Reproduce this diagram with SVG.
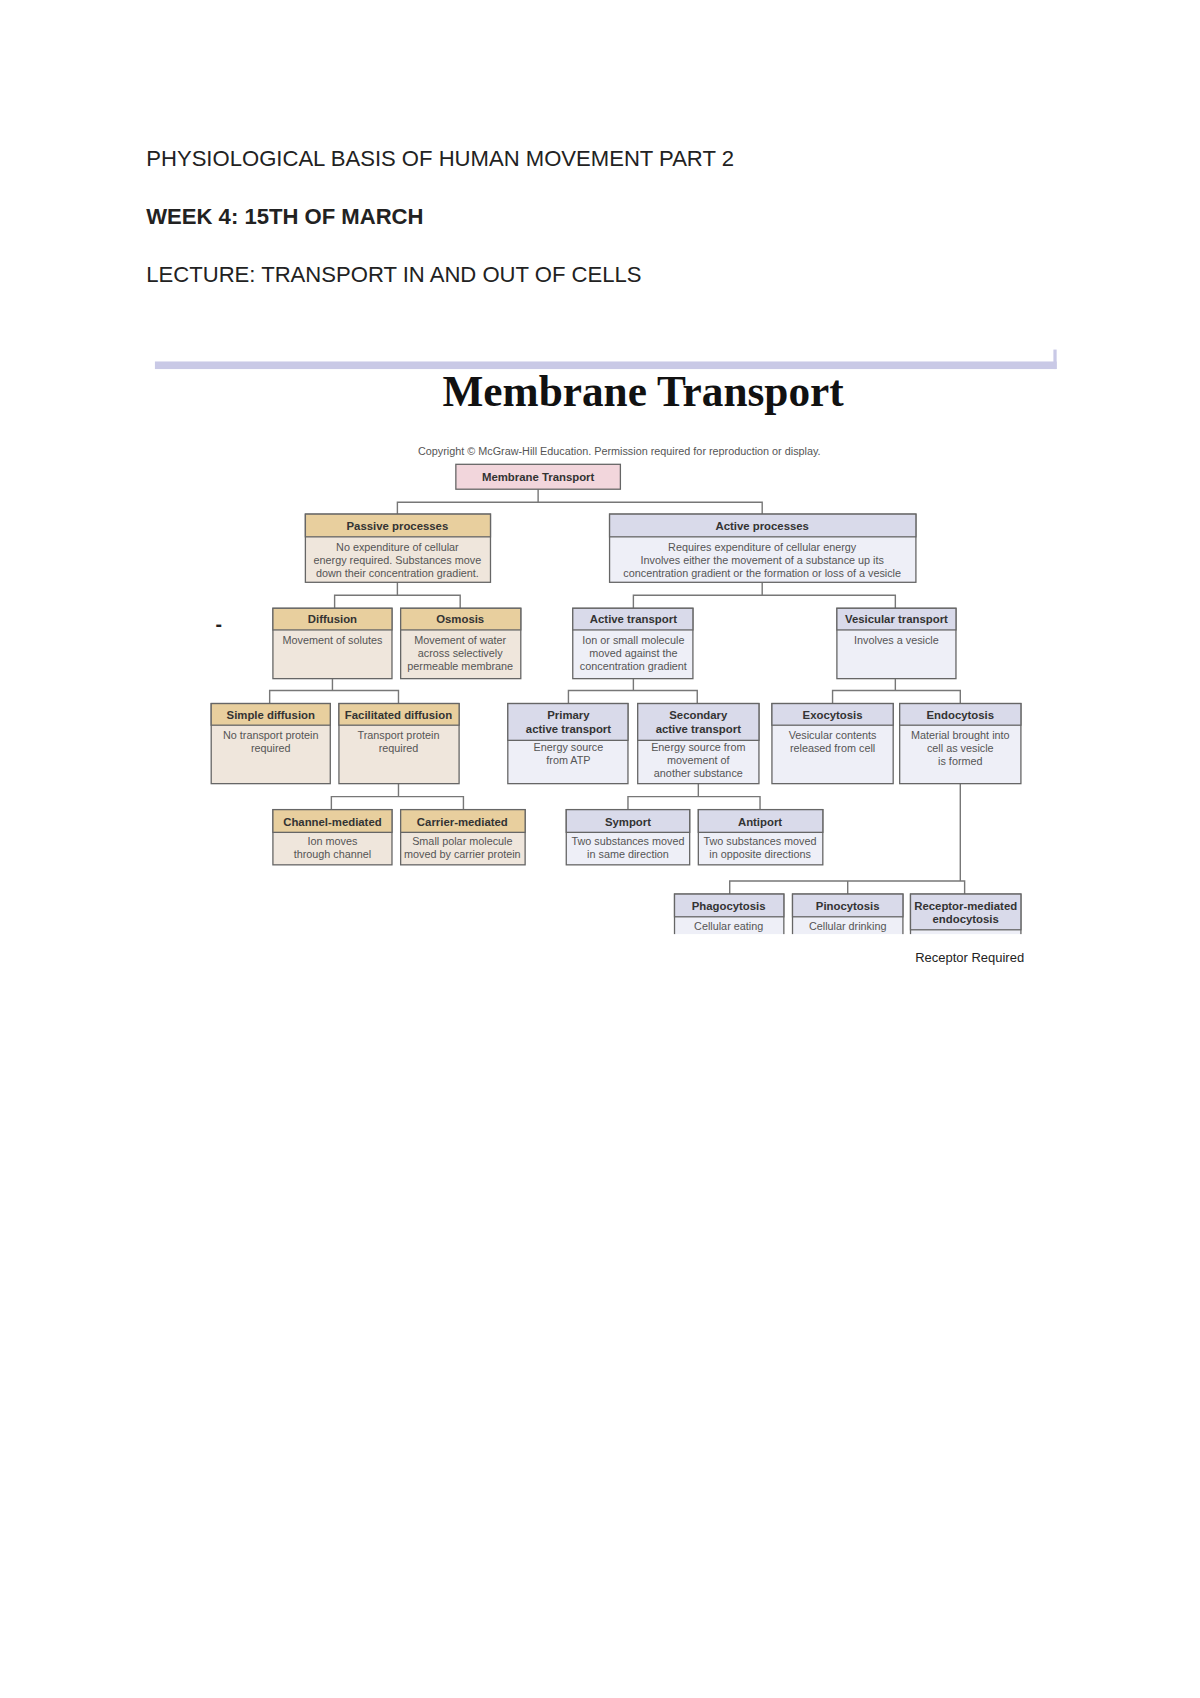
<svg xmlns="http://www.w3.org/2000/svg" width="1200" height="1698" viewBox="0 0 1200 1698">
<style>
.doc{font-family:"Liberation Sans",Arial,sans-serif;font-size:20.4px;fill:#222}
.b{stroke:#666;stroke-width:1.2}
.p{fill:#efe6dc}.ph{fill:#e8cf9e}
.a{fill:#eeeff7}.ah{fill:#d9daea}
.h{font-family:"Liberation Sans",Arial,sans-serif;font-size:10.5px;font-weight:bold;fill:#333;text-anchor:middle}
.t{font-family:"Liberation Sans",Arial,sans-serif;font-size:10px;fill:#555;text-anchor:middle}
.c{fill:none;stroke:#777;stroke-width:1.3}
</style>
<rect width="1200" height="1698" fill="#fff"/>
<g transform="translate(1.2,1) scale(1.0825)">
<text class="doc" x="134" y="152">PHYSIOLOGICAL BASIS OF HUMAN MOVEMENT PART 2</text>
<text class="doc" x="134" y="206" font-weight="bold">WEEK 4: 15TH OF MARCH</text>
<text class="doc" x="134" y="260">LECTURE: TRANSPORT IN AND OUT OF CELLS</text>
<rect x="142" y="333" width="833" height="7" fill="#c9c9e6"/>
<rect x="972" y="322" width="3" height="18" fill="#c9c9e6"/>
<text x="593" y="374" font-family="Liberation Serif,serif" font-size="40" font-weight="bold" text-anchor="middle" fill="#111">Membrane Transport</text>
<text x="571" y="419" class="t" font-size="9.5">Copyright © McGraw-Hill Education. Permission required for reproduction or display.</text>
<text x="198" y="582" font-family="Liberation Sans,sans-serif" font-size="18" font-weight="bold" fill="#222">-</text>
<g id="connectors" class="c">
<path d="M496 451V463M366 474V463H703V474"/>
<path d="M366 537V549M308 561V549H424V561"/>
<path d="M703 537V549M584 561V549H826V561"/>
<path d="M306 626V637M248 649V637H367V649"/>
<path d="M584 626V637M524 649V637H643V649"/>
<path d="M826 626V637M768 649V637H886V649"/>
<path d="M367 723V735M305 747V735H427V747"/>
<path d="M644 723V735M579 747V735H701V747"/>
<path d="M886 723V813M673 825V813H890V825M782 813V825"/>
</g>
<g id="membrane-transport"><rect class="b" x="420" y="428" width="152" height="23" fill="#f2d6dc"/><text class="h" x="496" y="443">Membrane Transport</text></g>
<g id="passive"><rect class="b p" x="281" y="474" width="171" height="63"/><rect class="b ph" x="281" y="474" width="171" height="21"/><text class="h" x="366" y="489">Passive processes</text><text class="t" x="366" y="508">No expenditure of cellular</text><text class="t" x="366" y="520">energy required. Substances move</text><text class="t" x="366" y="532">down their concentration gradient.</text></g>
<g id="active"><rect class="b a" x="562" y="474" width="283" height="63"/><rect class="b ah" x="562" y="474" width="283" height="21"/><text class="h" x="703" y="489">Active processes</text><text class="t" x="703" y="508">Requires expenditure of cellular energy</text><text class="t" x="703" y="520">Involves either the movement of a substance up its</text><text class="t" x="703" y="532">concentration gradient or the formation or loss of a vesicle</text></g>
<g id="diffusion"><rect class="b p" x="251" y="561" width="110" height="65"/><rect class="b ph" x="251" y="561" width="110" height="20"/><text class="h" x="306" y="575">Diffusion</text><text class="t" x="306" y="594">Movement of solutes</text></g>
<g id="osmosis"><rect class="b p" x="369" y="561" width="111" height="65"/><rect class="b ph" x="369" y="561" width="111" height="20"/><text class="h" x="424" y="575">Osmosis</text><text class="t" x="424" y="594">Movement of water</text><text class="t" x="424" y="606">across selectively</text><text class="t" x="424" y="618">permeable membrane</text></g>
<g id="active-transport"><rect class="b a" x="528" y="561" width="111" height="65"/><rect class="b ah" x="528" y="561" width="111" height="20"/><text class="h" x="584" y="575">Active transport</text><text class="t" x="584" y="594">Ion or small molecule</text><text class="t" x="584" y="606">moved against the</text><text class="t" x="584" y="618">concentration gradient</text></g>
<g id="vesicular"><rect class="b a" x="772" y="561" width="110" height="65"/><rect class="b ah" x="772" y="561" width="110" height="20"/><text class="h" x="827" y="575">Vesicular transport</text><text class="t" x="827" y="594">Involves a vesicle</text></g>
<g id="simple"><rect class="b p" x="194" y="649" width="110" height="74"/><rect class="b ph" x="194" y="649" width="110" height="20"/><text class="h" x="249" y="663">Simple diffusion</text><text class="t" x="249" y="682">No transport protein</text><text class="t" x="249" y="694">required</text></g>
<g id="facilitated"><rect class="b p" x="312" y="649" width="111" height="74"/><rect class="b ph" x="312" y="649" width="111" height="20"/><text class="h" x="367" y="663">Facilitated diffusion</text><text class="t" x="367" y="682">Transport protein</text><text class="t" x="367" y="694">required</text></g>
<g id="primary"><rect class="b a" x="468" y="649" width="111" height="74"/><rect class="b ah" x="468" y="649" width="111" height="34"/><text class="h" x="524" y="663">Primary</text><text class="h" x="524" y="676">active transport</text><text class="t" x="524" y="693">Energy source</text><text class="t" x="524" y="705">from ATP</text></g>
<g id="secondary"><rect class="b a" x="588" y="649" width="112" height="74"/><rect class="b ah" x="588" y="649" width="112" height="34"/><text class="h" x="644" y="663">Secondary</text><text class="h" x="644" y="676">active transport</text><text class="t" x="644" y="693">Energy source from</text><text class="t" x="644" y="705">movement of</text><text class="t" x="644" y="717">another substance</text></g>
<g id="exocytosis"><rect class="b a" x="712" y="649" width="112" height="74"/><rect class="b ah" x="712" y="649" width="112" height="20"/><text class="h" x="768" y="663">Exocytosis</text><text class="t" x="768" y="682">Vesicular contents</text><text class="t" x="768" y="694">released from cell</text></g>
<g id="endocytosis"><rect class="b a" x="830" y="649" width="112" height="74"/><rect class="b ah" x="830" y="649" width="112" height="20"/><text class="h" x="886" y="663">Endocytosis</text><text class="t" x="886" y="682">Material brought into</text><text class="t" x="886" y="694">cell as vesicle</text><text class="t" x="886" y="706">is formed</text></g>
<g id="channel"><rect class="b p" x="251" y="747" width="110" height="51"/><rect class="b ph" x="251" y="747" width="110" height="21"/><text class="h" x="306" y="762">Channel-mediated</text><text class="t" x="306" y="780">Ion moves</text><text class="t" x="306" y="792">through channel</text></g>
<g id="carrier"><rect class="b p" x="369" y="747" width="115" height="51"/><rect class="b ph" x="369" y="747" width="115" height="21"/><text class="h" x="426" y="762">Carrier-mediated</text><text class="t" x="426" y="780">Small polar molecule</text><text class="t" x="426" y="792">moved by carrier protein</text></g>
<g id="symport"><rect class="b a" x="522" y="747" width="114" height="51"/><rect class="b ah" x="522" y="747" width="114" height="21"/><text class="h" x="579" y="762">Symport</text><text class="t" x="579" y="780">Two substances moved</text><text class="t" x="579" y="792">in same direction</text></g>
<g id="antiport"><rect class="b a" x="644" y="747" width="115" height="51"/><rect class="b ah" x="644" y="747" width="115" height="21"/><text class="h" x="701" y="762">Antiport</text><text class="t" x="701" y="780">Two substances moved</text><text class="t" x="701" y="792">in opposite directions</text></g>
<g id="phagocytosis"><rect class="b a" x="622" y="825" width="101" height="40"/><rect class="b ah" x="622" y="825" width="101" height="21"/><text class="h" x="672" y="840">Phagocytosis</text><text class="t" x="672" y="858">Cellular eating</text></g>
<g id="pinocytosis"><rect class="b a" x="731" y="825" width="102" height="40"/><rect class="b ah" x="731" y="825" width="102" height="21"/><text class="h" x="782" y="840">Pinocytosis</text><text class="t" x="782" y="858">Cellular drinking</text></g>
<g id="receptor"><rect class="b a" x="840" y="825" width="102" height="40"/><rect class="b ah" x="840" y="825" width="102" height="33"/><text class="h" x="891" y="840">Receptor-mediated</text><text class="h" x="891" y="852">endocytosis</text></g>
<rect x="600" y="862" width="360" height="8" fill="#fff"/>
<text x="945" y="888" font-family="Liberation Sans,sans-serif" font-size="12" text-anchor="end" fill="#222">Receptor Required</text>
</g>
</svg>
